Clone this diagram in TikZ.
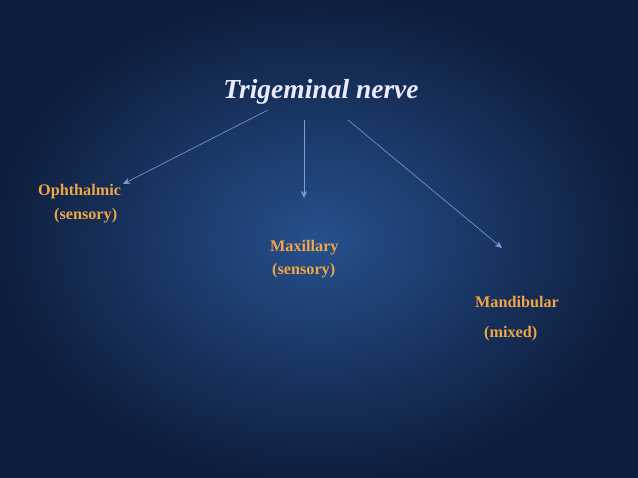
\documentclass[tikz,border=0pt]{standalone}
\usepackage{fontspec}
\setmainfont{Liberation Serif}
\usetikzlibrary{arrows.meta}
\definecolor{bgin}{RGB}{38,80,140}
\definecolor{bgout}{RGB}{14,30,62}
\definecolor{lab}{RGB}{240,165,70}
\definecolor{arr}{RGB}{120,160,220}
\tikzset{
  lbl/.style={text=lab,font=\bfseries\fontsize{16.2}{18}\selectfont,inner sep=0pt,anchor=west},
  conn/.style={draw=arr,line width=0.6pt,-{Stealth[length=7pt,width=6pt]}}
}
\begin{document}
\begin{tikzpicture}[x=1pt,y=-1pt]
\useasboundingbox (0,0) rectangle (638,478);
\shade[inner color=bgin,outer color=bgout] (0,0) rectangle (638,478);
\node[text=white!92!blue,font=\bfseries\itshape\fontsize{27.5}{30}\selectfont,inner sep=0pt] (t) at (321,92) {Trigeminal nerve};
\node[lbl] (o) at (38,192) {Ophthalmic};
\node[lbl] (os) at (54,216) {(sensory)};
\node[lbl] (m) at (270,248) {Maxillary};
\node[lbl] (ms) at (272,271) {(sensory)};
\node[lbl] (d) at (475,302) {Mandibular};
\node[lbl] (dm) at (484,334) {(mixed)};
\coordinate (a1) at (268,110); \coordinate (b1) at (123,184);
\coordinate (a2) at (304,120); \coordinate (b2) at (304,198);
\coordinate (a3) at (348,120); \coordinate (b3) at (502,248);
\draw[conn] (a1) -- (b1);
\draw[conn] (a2) -- (b2);
\draw[conn] (a3) -- (b3);
\end{tikzpicture}
\end{document}
